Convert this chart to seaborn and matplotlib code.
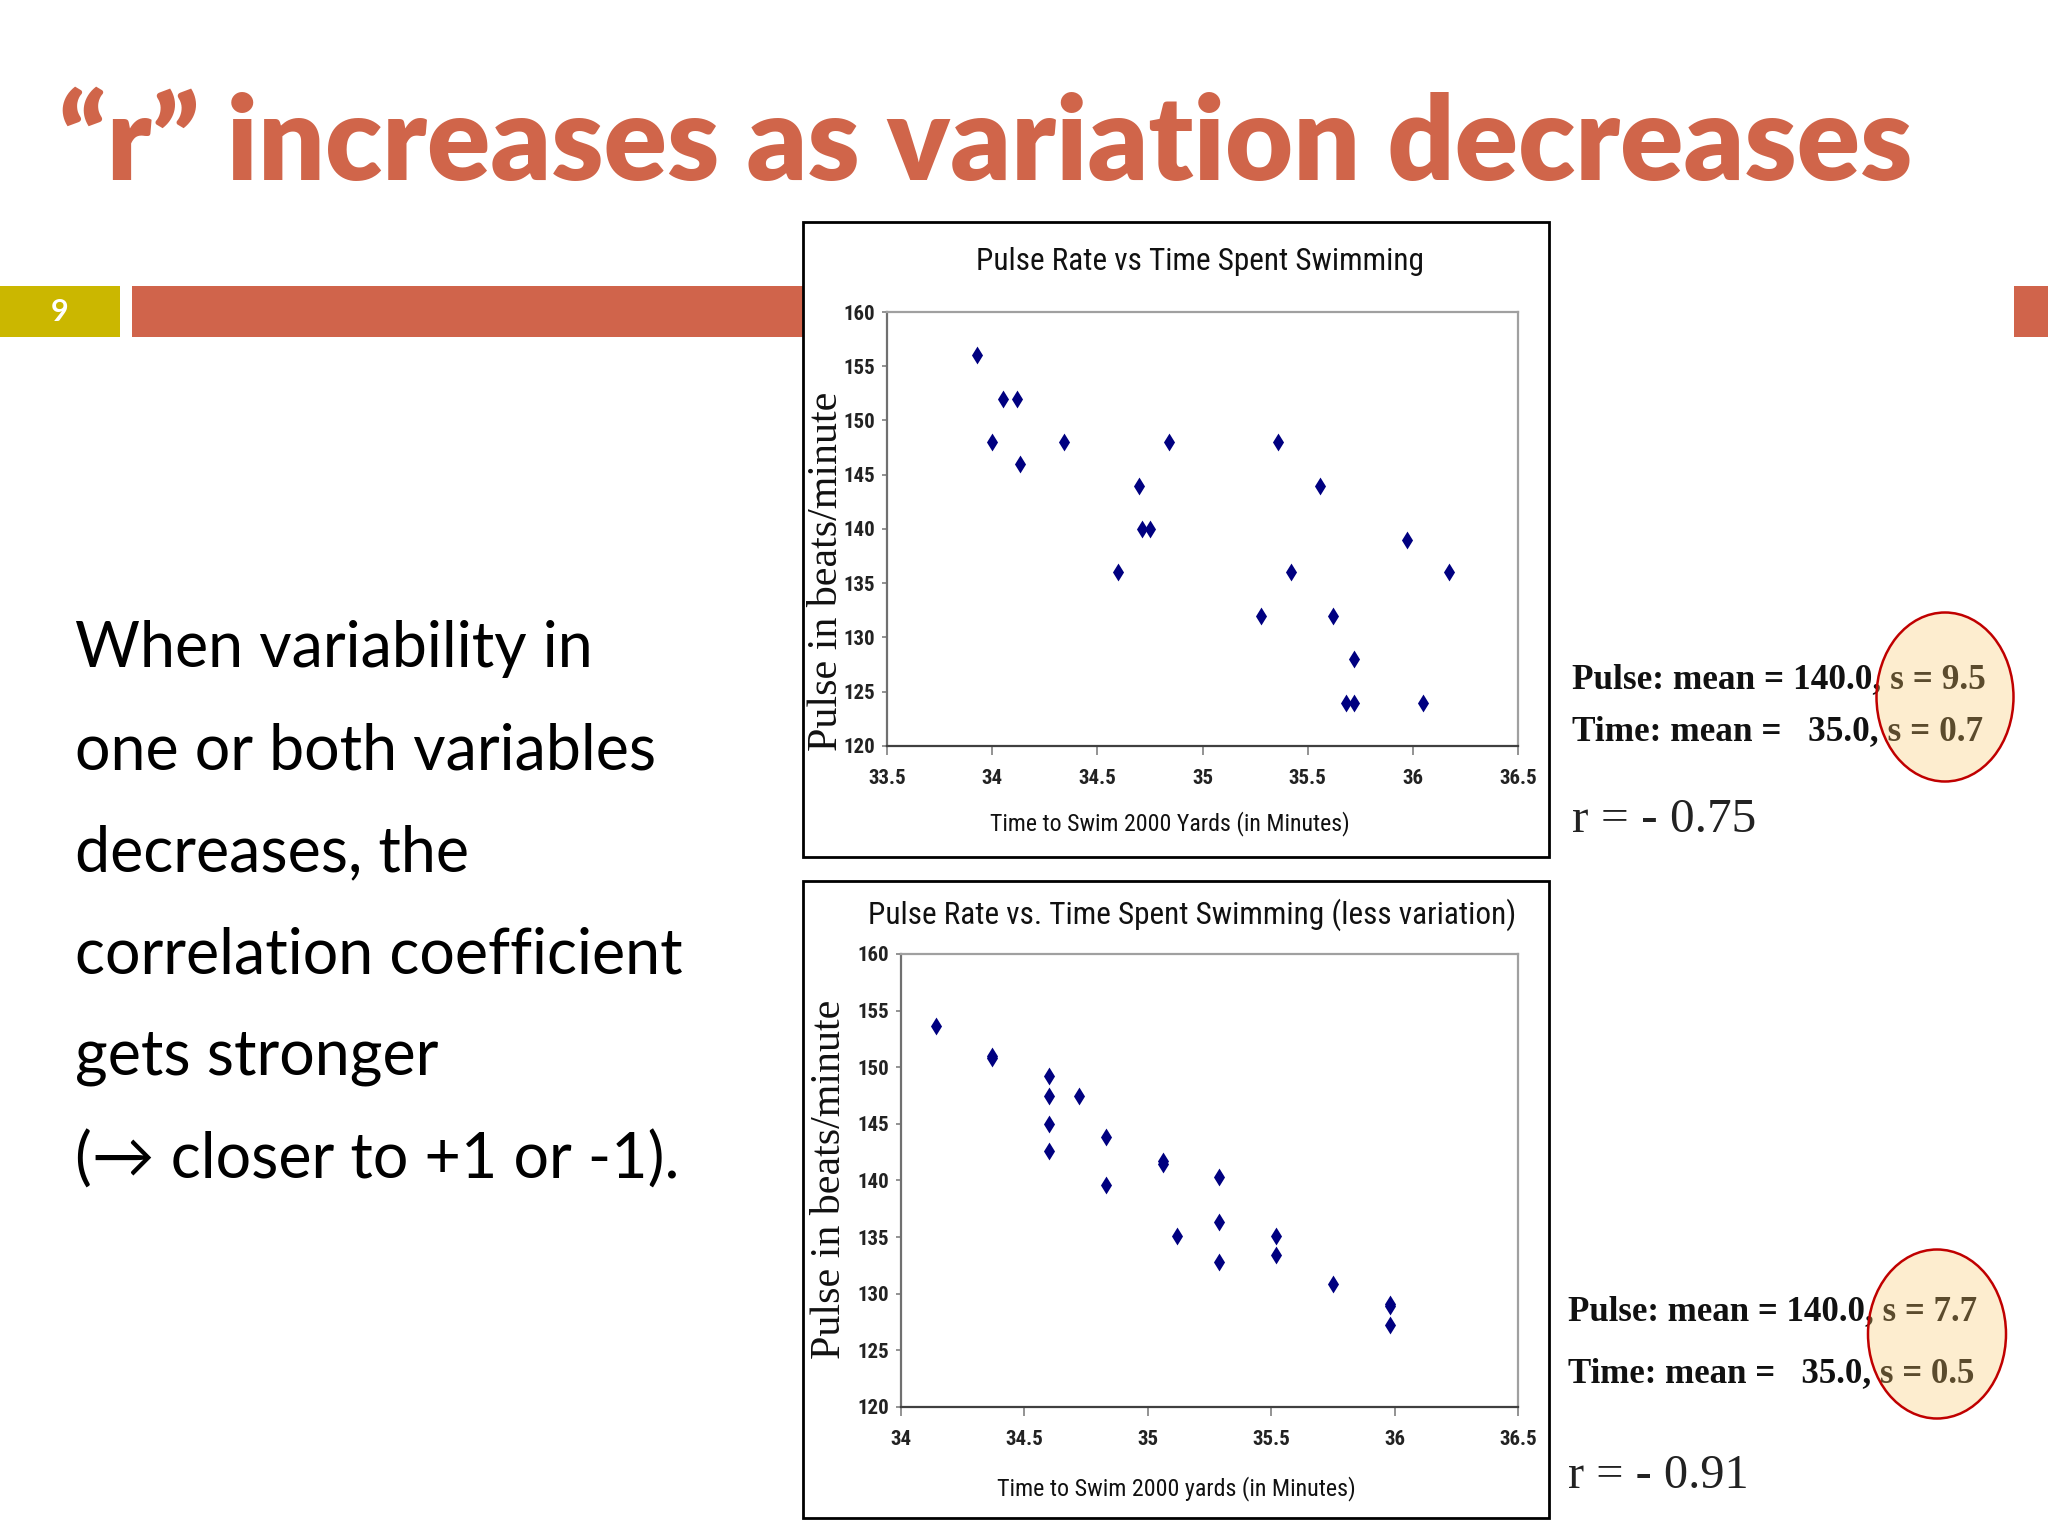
import numpy as np
import matplotlib
matplotlib.use("Agg")
import matplotlib.pyplot as plt
import seaborn as sns
from matplotlib import font_manager
from matplotlib.patches import Rectangle, Ellipse

# ---------------- data ----------------
top_time = [33.93, 34.00, 34.05, 34.12, 34.13, 34.34, 34.60, 34.70, 34.71, 34.75, 34.84,
            35.28, 35.36, 35.42, 35.56, 35.62, 35.68, 35.72, 35.72, 35.97, 36.05, 36.17]
top_pulse = [156, 148, 152, 152, 146, 148, 136, 144, 140, 140, 148,
             132, 148, 136, 144, 132, 124, 128, 124, 139, 124, 136]

bot_time = [34.14, 34.37, 34.37, 34.60, 34.60, 34.60, 34.60, 34.72, 34.83, 34.83, 35.06,
            35.06, 35.12, 35.29, 35.29, 35.29, 35.52, 35.52, 35.75, 35.98, 35.98, 35.98]
bot_pulse = [153.6, 150.8, 151.0, 149.2, 147.5, 145.0, 142.6, 147.5, 143.8, 139.6, 141.7,
             141.5, 135.1, 140.3, 136.3, 132.8, 135.1, 133.4, 130.9, 128.9, 129.1, 127.2]

top_xticks = [33.5, 34, 34.5, 35, 35.5, 36, 36.5]
bot_xticks = [34, 34.5, 35, 35.5, 36, 36.5]
yticks = [120, 125, 130, 135, 140, 145, 150, 155, 160]

slide_title = "\u201cr\u201d increases as variation decreases"
body_lines = ["When variability in", "one or both variables", "decreases, the",
              "correlation coefficient", "gets stronger", "(\u2192 closer to +1 or -1)."]
top_title = "Pulse Rate vs Time Spent Swimming"
bot_title = "Pulse Rate vs. Time Spent Swimming (less variation)"
top_xlabel = "Time to Swim 2000 Yards (in Minutes)"
bot_xlabel = "Time to Swim 2000 yards (in Minutes)"
ylabel = "Pulse in beats/minute"
top_stats = ["Pulse: mean = 140.0, s = 9.5", "Time: mean =   35.0, s = 0.7"]
bot_stats = ["Pulse: mean = 140.0, s = 7.7", "Time: mean =   35.0, s = 0.5"]
top_r = "r = - 0.75"
bot_r = "r = - 0.91"
slide_no = "9"

# ---------------- style ----------------
W, H = 2048, 1536
sns.set_style("white")
names = {f.name for f in font_manager.fontManager.ttflist}


def pick(*cands):
    for n in cands:
        if n in names:
            return n
    return "DejaVu Sans"


NARROW = pick("Liberation Sans Narrow", "DejaVu Sans Condensed", "Roboto Condensed", "Liberation Sans")
SERIF = pick("Liberation Serif", "DejaVu Serif")
GEO = pick("Lato", "Open Sans", "DejaVu Sans")
plt.rcParams["font.family"] = [GEO, "DejaVu Sans"]

TITLE_C = "#D0654A"
NAVY = "#000080"

fig = plt.figure(figsize=(W / 100, H / 100), dpi=100, facecolor="white")
ov = fig.add_axes([0, 0, 1, 1])
ov.set_xlim(0, W)
ov.set_ylim(H, 0)
ov.axis("off")
renderer = fig.canvas.get_renderer()


def fit(t, target, vertical=False):
    bb = t.get_window_extent(renderer)
    cur = bb.height if vertical else bb.width
    t.set_fontsize(t.get_fontsize() * target / cur)
    return t.get_fontsize()


# slide title
t = ov.text(59, 180, slide_title, color=TITLE_C, fontweight="heavy", ha="left",
            va="baseline", fontsize=60, family=[GEO, "DejaVu Sans"])
fit(t, 1854)

# bars
ov.add_patch(Rectangle((0, 286), 120, 51, color="#CBB700", lw=0))
ov.add_patch(Rectangle((132, 286), 671, 51, color="#D0644B", lw=0))
ov.add_patch(Rectangle((2014, 286), 34, 51, color="#D0644B", lw=0))
ov.text(60, 312, slide_no, color="white", fontweight="bold", ha="center", va="center",
        fontsize=22, family=[GEO, "DejaVu Sans"])

# body text
baselines = [667, 769, 871, 974, 1075, 1179]
body = [ov.text(75, b, s, color="black", ha="left", va="baseline", fontsize=40,
                family=[GEO, "DejaVu Sans"]) for s, b in zip(body_lines, baselines)]
fs = fit(body[3], 608)
for tt in body:
    tt.set_fontsize(fs)

# chart frames
ov.add_patch(Rectangle((803, 222), 746, 635, facecolor="white", edgecolor="black", lw=2.0))
ov.add_patch(Rectangle((803, 881), 746, 637, facecolor="white", edgecolor="black", lw=2.0))


def stats_block(lines, x, b1, b2, width, rline, rb, rwidth, ell):
    t1 = ov.text(x, b1, lines[0], family=SERIF, fontweight="bold", ha="left",
                 va="baseline", fontsize=30, color="#111111", zorder=3)
    f = fit(t1, width)
    ov.text(x, b2, lines[1], family=SERIF, fontweight="bold", ha="left",
            va="baseline", fontsize=f, color="#111111", zorder=3)
    tr = ov.text(x, rb, rline, family=SERIF, ha="left", va="baseline",
                 fontsize=40, color="#222222", zorder=3)
    fit(tr, rwidth)
    cx, cy, ew, eh = ell
    ov.add_patch(Ellipse((cx, cy), ew, eh, facecolor="#F9C76A", alpha=0.32, lw=0, zorder=4))
    ov.add_patch(Ellipse((cx, cy), ew, eh, facecolor="none", edgecolor="#C00000", lw=1.8, zorder=5))


stats_block(top_stats, 1572, 688, 740, 413, top_r, 832, 184, (1945, 697, 137, 169))
stats_block(bot_stats, 1568, 1320, 1382, 409, bot_r, 1488, 180, (1937, 1334, 138, 169))

# ---------------- scatter charts ----------------
DIAMOND = np.array([(0, 1), (0.62, 0), (0, -1), (-0.62, 0), (0, 1)])


def make_chart(box, xs, ys, xlim, xt, title, tpos, twidth, xlab, xpos, ypos):
    l, tp, r, b = box
    ax = fig.add_axes([l / W, 1 - b / H, (r - l) / W, (b - tp) / H])
    sns.scatterplot(x=xs, y=ys, ax=ax, marker=DIAMOND, s=165, color=NAVY,
                    edgecolor=NAVY, linewidth=0, legend=False)
    ax.set_xlim(*xlim)
    ax.set_ylim(120, 160)
    ax.set_xticks(xt)
    ax.set_yticks(yticks)
    ax.set_xticklabels([f"{v:g}" for v in xt], family=NARROW, fontweight="bold",
                       fontsize=15, color="#222222")
    ax.set_yticklabels([f"{v:g}" for v in yticks], family=NARROW, fontweight="bold",
                       fontsize=15, color="#222222")
    ax.tick_params(axis="x", direction="out", length=6.5, width=1.2, color="#808080", pad=10,
                   bottom=True)
    ax.tick_params(axis="y", direction="out", length=3.5, width=1.2, color="#808080", pad=5,
                   left=True)
    for side in ["top", "right"]:
        ax.spines[side].set_color("#A0A0A0")
        ax.spines[side].set_linewidth(1.6)
    ax.spines["left"].set_color("#707070")
    ax.spines["bottom"].set_color("#404040")
    ax.spines["left"].set_linewidth(1.6)
    ax.spines["bottom"].set_linewidth(1.6)
    ax.set_facecolor("white")

    def frac(px, py):
        return (px - l) / (r - l), (b - py) / (b - tp)

    tx, ty = frac(*tpos)
    tt = ax.set_title(title, x=tx, y=ty, va="center", pad=0, family=NARROW,
                      fontsize=24, color="#111111")
    fit(tt, twidth)
    xl = ax.set_xlabel(xlab, family=NARROW, fontsize=20, color="#111111")
    ax.xaxis.set_label_coords(*frac(*xpos))
    xl.set_va("center")
    fit(xl, 359)
    yl = ax.set_ylabel(ylabel, family=SERIF, fontsize=26, color="#111111")
    ax.yaxis.set_label_coords(*frac(*ypos))
    yl.set_va("center")
    fit(yl, 360, vertical=True)
    return ax


make_chart((887, 312, 1518, 746), top_time, top_pulse, (33.5, 36.5), top_xticks,
           top_title, (1200, 261), 448, top_xlabel, (1170, 824), (827, 571))
make_chart((901, 954, 1518, 1407), bot_time, bot_pulse, (34, 36.5), bot_xticks,
           bot_title, (1192, 915), 649, bot_xlabel, (1176, 1489), (830, 1179))

fig.savefig("out.png", dpi=100, facecolor="white")
